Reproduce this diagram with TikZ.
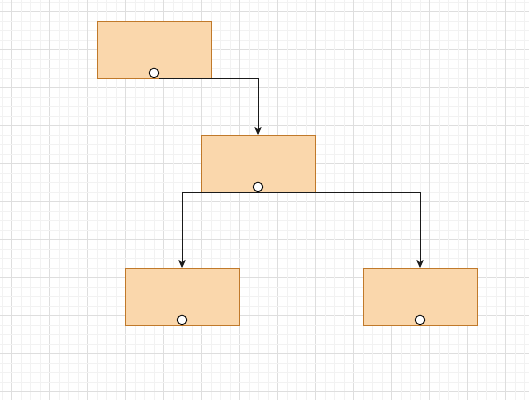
\documentclass[tikz,border=0pt]{standalone}
\usetikzlibrary{arrows.meta}
\definecolor{boxfill}{HTML}{FAD7AC}
\definecolor{boxline}{HTML}{C0792A}
\definecolor{gridminor}{HTML}{F2F2F2}
\definecolor{gridmajor}{HTML}{DEDEDE}
\definecolor{conncol}{HTML}{1A1A1A}
\tikzset{
  px/.style={x=0.75pt,y=-0.75pt},
  box/.style={draw=boxline,fill=boxfill,line width=0.75pt,minimum width=85.5pt,minimum height=42.75pt,inner sep=0pt,outer sep=0pt},
  port/.style={circle,draw=black,fill=white,line width=0.6pt,minimum size=7.2pt,inner sep=0pt},
  conn/.style={draw=conncol,line width=0.75pt,-{Stealth[length=6pt,width=5.5pt,inset=1.5pt]}},
  gminor/.style={draw=gridminor,line width=0.6pt},
  gmajor/.style={draw=gridmajor,line width=0.75pt}
}
\begin{document}
\begin{tikzpicture}[px]
\useasboundingbox (0,0) rectangle (529,400);
\fill[white] (0,0) rectangle (529,400);
% grid
\foreach \i in {-1,...,55} {
  \pgfmathsetmacro{\g}{11.5+9.5*\i}
  \pgfmathtruncatemacro{\m}{mod(\i+4,4)}
  \ifnum\m=0
    \draw[gmajor] (\g,0) -- (\g,400);
    \draw[gmajor] (0,\g) -- (529,\g);
  \else
    \draw[gminor] (\g,0) -- (\g,400);
    \draw[gminor] (0,\g) -- (529,\g);
  \fi
}
% boxes
\node[box] (b1) at (154,49.5) {};
\node[box] (b2) at (258,163.5) {};
\node[box] (b3) at (182,296.5) {};
\node[box] (b4) at (420,296.5) {};
% connectors
\draw[conn] (b1.south) ++(5,0) coordinate (s1) -| (b2.north);
\draw[conn] (b2.south) -| (b3.north);
\draw[conn] (b2.south) -| (b4.north);
% ports
\node[port] (p1) at ([yshift=3.8pt]b1.south) {};
\node[port] (p2) at ([yshift=3.8pt]b2.south) {};
\node[port] (p3) at ([yshift=3.8pt]b3.south) {};
\node[port] (p4) at ([yshift=3.8pt]b4.south) {};
\end{tikzpicture}
\end{document}
